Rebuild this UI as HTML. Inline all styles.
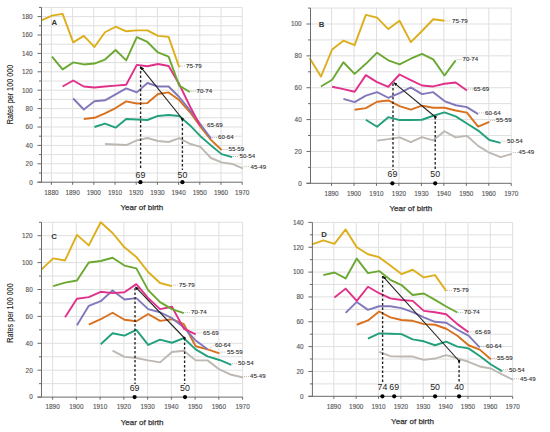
<!DOCTYPE html>
<html><head><meta charset="utf-8"><title>Rates by year of birth</title>
<style>
html,body{margin:0;padding:0;background:#fff;}
body{width:550px;height:432px;overflow:hidden;}
svg{display:block;}
text{font-family:"Liberation Sans",sans-serif;}
.tl{font-size:6.4px;fill:#555;stroke:#555;stroke-width:0.12px;}
.sl{font-size:6.1px;fill:#333;stroke:#333;stroke-width:0.12px;}
.let{font-size:7.8px;font-weight:bold;fill:#333;}
.mk{font-size:8.8px;fill:#222;}
.xt{font-size:8px;fill:#333;stroke:#333;stroke-width:0.25px;}
.yt{font-size:8.3px;fill:#222;stroke:#222;stroke-width:0.1px;}
</style></head>
<body>
<svg width="550" height="432" viewBox="0 0 550 432">
<defs>
<marker id="ah" viewBox="0 0 10 10" refX="10" refY="5" markerWidth="3.4" markerHeight="3.4" orient="auto" markerUnits="userSpaceOnUse">
<path d="M0 0L10 5L0 10z" fill="#111"/>
</marker>
</defs>
<rect width="550" height="432" fill="#fff"/>
<path d="M41.5 173H242.2M41.5 163.8H242.2M41.5 154.6H242.2M41.5 145.4H242.2M41.5 136.2H242.2M41.5 127H242.2M41.5 117.8H242.2M41.5 108.6H242.2M41.5 99.4H242.2M41.5 90.2H242.2M41.5 81H242.2M41.5 71.8H242.2M41.5 62.6H242.2M41.5 53.4H242.2M41.5 44.2H242.2M41.5 35H242.2M41.5 25.8H242.2M41.5 16.6H242.2M41.5 7.4H242.2M51.4 7.4V182.2M72.6 7.4V182.2M93.8 7.4V182.2M115 7.4V182.2M136.2 7.4V182.2M157.4 7.4V182.2M178.6 7.4V182.2M199.8 7.4V182.2M221 7.4V182.2M242.2 7.4V182.2" stroke="#DFDFDF" stroke-width="1" fill="none"/>
<polyline points="105,144.02 115.6,144.48 126.2,145.03 136.8,140.34 147.4,138.04 158,140.98 168.6,142 179.2,138.04 189.8,143.74 200.4,146.96 211,158 221.6,162.42 232.2,163.98 242.8,168.31" stroke="#BDB8B2" stroke-width="1.9" fill="none" stroke-linejoin="round" stroke-linecap="butt"/>
<polyline points="94.4,127 105,123.6 115.6,127.64 126.2,119 136.8,119.46 147.4,120.01 158,115.96 168.6,115.04 179.2,115.96 189.8,125.16 200.4,136.2 211,145.4 221.6,154.14 232.2,157.18" stroke="#22A07C" stroke-width="1.9" fill="none" stroke-linejoin="round" stroke-linecap="butt"/>
<polyline points="83.8,119 94.4,117.8 105,113.38 115.6,108.05 126.2,101.42 136.8,103.54 147.4,103.08 158,93.97 168.6,92.41 179.2,100.04 189.8,112 200.4,126.54 211,139.88 221.6,150" stroke="#D9701E" stroke-width="1.9" fill="none" stroke-linejoin="round" stroke-linecap="butt"/>
<polyline points="73.2,98.48 83.8,109.52 94.4,101.24 105,100.32 115.6,94.43 126.2,88.36 136.8,92.41 147.4,83.02 158,86.52 168.6,86.52 179.2,97.01 189.8,109.98 200.4,124.24 211,138.5" stroke="#8078BA" stroke-width="1.9" fill="none" stroke-linejoin="round" stroke-linecap="butt"/>
<polyline points="62.6,86.52 73.2,80.45 83.8,86.52 94.4,87.44 105,86.52 115.6,85.6 126.2,84.68 136.8,64.9 147.4,66.28 158,63.98 168.6,66 179.2,84.04 189.8,106.02 200.4,126.08" stroke="#E0308A" stroke-width="1.9" fill="none" stroke-linejoin="round" stroke-linecap="butt"/>
<polyline points="52,56.62 62.6,69.41 73.2,62.42 83.8,64.44 94.4,63.52 105,59.56 115.6,50 126.2,60.39 136.8,37.21 147.4,41.99 158,52.48 168.6,56.62 179.2,85.6 189.8,92.04" stroke="#6AA832" stroke-width="1.9" fill="none" stroke-linejoin="round" stroke-linecap="butt"/>
<polyline points="41.4,20.28 52,15.68 62.6,13.84 73.2,42.36 83.8,35.92 94.4,46.96 105,32.24 115.6,26.72 126.2,31.32 136.8,30.4 147.4,30.4 158,35.92 168.6,36.84 179.2,67.2" stroke="#DDAE1C" stroke-width="1.9" fill="none" stroke-linejoin="round" stroke-linecap="butt"/>
<path d="M41.5 7.4V182.2M37.5 182.2H242.2M37.5 182.2H41.5M39 173H41.5M37.5 163.8H41.5M39 154.6H41.5M37.5 145.4H41.5M39 136.2H41.5M37.5 127H41.5M39 117.8H41.5M37.5 108.6H41.5M39 99.4H41.5M37.5 90.2H41.5M39 81H41.5M37.5 71.8H41.5M39 62.6H41.5M37.5 53.4H41.5M39 44.2H41.5M37.5 35H41.5M39 25.8H41.5M37.5 16.6H41.5M39 7.4H41.5M51.4 182.2V184.8M72.6 182.2V184.8M93.8 182.2V184.8M115 182.2V184.8M136.2 182.2V184.8M157.4 182.2V184.8M178.6 182.2V184.8M199.8 182.2V184.8M221 182.2V184.8M242.2 182.2V184.8" stroke="#6a6a6a" stroke-width="1" fill="none"/>
<text x="32.7" y="184.5" class="tl" text-anchor="end">0</text>
<text x="32.7" y="166.1" class="tl" text-anchor="end">20</text>
<text x="32.7" y="147.7" class="tl" text-anchor="end">40</text>
<text x="32.7" y="129.3" class="tl" text-anchor="end">60</text>
<text x="32.7" y="110.9" class="tl" text-anchor="end">80</text>
<text x="32.7" y="92.5" class="tl" text-anchor="end">100</text>
<text x="32.7" y="74.1" class="tl" text-anchor="end">120</text>
<text x="32.7" y="55.7" class="tl" text-anchor="end">140</text>
<text x="32.7" y="37.3" class="tl" text-anchor="end">160</text>
<text x="32.7" y="18.9" class="tl" text-anchor="end">180</text>
<text x="51.4" y="194.5" class="tl" text-anchor="middle">1880</text>
<text x="72.6" y="194.5" class="tl" text-anchor="middle">1890</text>
<text x="93.8" y="194.5" class="tl" text-anchor="middle">1900</text>
<text x="115" y="194.5" class="tl" text-anchor="middle">1910</text>
<text x="136.2" y="194.5" class="tl" text-anchor="middle">1920</text>
<text x="157.4" y="194.5" class="tl" text-anchor="middle">1930</text>
<text x="178.6" y="194.5" class="tl" text-anchor="middle">1940</text>
<text x="199.8" y="194.5" class="tl" text-anchor="middle">1950</text>
<text x="221" y="194.5" class="tl" text-anchor="middle">1960</text>
<text x="242.2" y="194.5" class="tl" text-anchor="middle">1970</text>
<path d="M180.2 66H185.5" stroke="#999" stroke-width="0.8" stroke-dasharray="0.8 1.2" fill="none"/>
<text x="186" y="67.8" class="sl">75-79</text>
<path d="M190.8 91.3H196" stroke="#999" stroke-width="0.8" stroke-dasharray="0.8 1.2" fill="none"/>
<text x="196.5" y="93.1" class="sl">70-74</text>
<path d="M201.4 124.9H206.5" stroke="#999" stroke-width="0.8" stroke-dasharray="0.8 1.2" fill="none"/>
<text x="207" y="126.7" class="sl">65-69</text>
<path d="M212 137.5H217.5" stroke="#999" stroke-width="0.8" stroke-dasharray="0.8 1.2" fill="none"/>
<text x="218" y="139.3" class="sl">60-64</text>
<path d="M222.6 149.5H228" stroke="#999" stroke-width="0.8" stroke-dasharray="0.8 1.2" fill="none"/>
<text x="228.5" y="151.3" class="sl">55-59</text>
<path d="M233.2 156.5H239" stroke="#999" stroke-width="0.8" stroke-dasharray="0.8 1.2" fill="none"/>
<text x="239.5" y="158.3" class="sl">50-54</text>
<path d="M243.8 166.7H250" stroke="#999" stroke-width="0.8" stroke-dasharray="0.8 1.2" fill="none"/>
<text x="250.5" y="168.5" class="sl">45-49</text>
<text x="54.4" y="25" class="let" text-anchor="middle">A</text>
<path d="M140.6 66.5V170" stroke="#222" stroke-width="1.35" stroke-dasharray="2.6 1.9" fill="none"/>
<path d="M182.4 119V170" stroke="#222" stroke-width="1.35" stroke-dasharray="2.6 1.9" fill="none"/>
<path d="M182.4 119L140.6 66.8" stroke="#222" stroke-width="1.1" fill="none" marker-end="url(#ah)"/>
<circle cx="182.4" cy="119" r="1.3" fill="#111"/>
<text x="140.4" y="177.6" class="mk" text-anchor="middle">69</text>
<circle cx="140.4" cy="182.2" r="2.1" fill="#000"/>
<text x="182.4" y="177.6" class="mk" text-anchor="middle">50</text>
<circle cx="182.4" cy="182.2" r="2.1" fill="#000"/>
<text x="141.85" y="209.6" class="xt" text-anchor="middle">Year of birth</text>
<text transform="translate(12.9 94.5) rotate(-90) scale(0.875 1)" class="yt" text-anchor="middle">Rates per 100 000</text>
<path d="M310.5 167.37H511.24M310.5 151.44H511.24M310.5 135.51H511.24M310.5 119.58H511.24M310.5 103.65H511.24M310.5 87.72H511.24M310.5 71.79H511.24M310.5 55.86H511.24M310.5 39.93H511.24M310.5 24H511.24M310.5 8.07H511.24M331.56 8.07V183.3M354.02 8.07V183.3M376.48 8.07V183.3M398.94 8.07V183.3M421.4 8.07V183.3M443.86 8.07V183.3M466.32 8.07V183.3M488.78 8.07V183.3M511.24 8.07V183.3" stroke="#DFDFDF" stroke-width="1" fill="none"/>
<polyline points="377.08,140.61 388.31,139.17 399.54,137.42 410.77,142.2 422,137.1 433.23,140.29 444.46,131.21 455.69,137.42 466.92,135.83 478.15,145.86 489.38,152.71 500.61,157.17 511.84,153.83" stroke="#BDB8B2" stroke-width="1.9" fill="none" stroke-linejoin="round" stroke-linecap="butt"/>
<polyline points="365.85,119.74 377.08,126.75 388.31,117.19 399.54,120.06 410.77,120.06 422,119.74 433.23,115.76 444.46,112.41 455.69,116.39 466.92,123.56 478.15,130.57 489.38,139.97 500.61,142.84" stroke="#22A07C" stroke-width="1.9" fill="none" stroke-linejoin="round" stroke-linecap="butt"/>
<polyline points="354.62,109.7 365.85,108.11 377.08,101.74 388.31,100.46 399.54,106.04 410.77,109.54 422,105.72 433.23,107.79 444.46,107.79 455.69,110.5 466.92,112.57 478.15,126.59 489.38,121.97" stroke="#D9701E" stroke-width="1.9" fill="none" stroke-linejoin="round" stroke-linecap="butt"/>
<polyline points="343.39,98.87 354.62,102.06 365.85,95.69 377.08,92.18 388.31,97.76 399.54,93.14 410.77,87.4 422,94.09 433.23,92.18 444.46,101.1 455.69,105.24 466.92,107.15 478.15,114.16" stroke="#8078BA" stroke-width="1.9" fill="none" stroke-linejoin="round" stroke-linecap="butt"/>
<polyline points="332.16,86.76 343.39,89.15 354.62,91.7 365.85,75.14 377.08,82.14 388.31,86.76 399.54,74.5 410.77,80.07 422,85.49 433.23,86.45 444.46,83.74 455.69,82.46 466.92,90.59" stroke="#E0308A" stroke-width="1.9" fill="none" stroke-linejoin="round" stroke-linecap="butt"/>
<polyline points="320.93,86.45 332.16,79.76 343.39,62.23 354.62,73.86 365.85,63.83 377.08,52.67 388.31,60.32 399.54,64.3 410.77,58.73 422,53.79 433.23,59.36 444.46,75.45 455.69,60.32" stroke="#6AA832" stroke-width="1.9" fill="none" stroke-linejoin="round" stroke-linecap="butt"/>
<polyline points="309.7,58.25 320.93,76.57 332.16,49.49 343.39,40.73 354.62,45.19 365.85,14.92 377.08,17.63 388.31,29.1 399.54,20.81 410.77,42.16 422,31.01 433.23,19.22 444.46,20.81" stroke="#DDAE1C" stroke-width="1.9" fill="none" stroke-linejoin="round" stroke-linecap="butt"/>
<path d="M310.5 8.07V183.3M306.5 183.3H511.24M306.5 183.3H310.5M308 167.37H310.5M306.5 151.44H310.5M308 135.51H310.5M306.5 119.58H310.5M308 103.65H310.5M306.5 87.72H310.5M308 71.79H310.5M306.5 55.86H310.5M308 39.93H310.5M306.5 24H310.5M308 8.07H310.5M331.56 183.3V185.9M354.02 183.3V185.9M376.48 183.3V185.9M398.94 183.3V185.9M421.4 183.3V185.9M443.86 183.3V185.9M466.32 183.3V185.9M488.78 183.3V185.9M511.24 183.3V185.9" stroke="#6a6a6a" stroke-width="1" fill="none"/>
<text x="301.7" y="185.6" class="tl" text-anchor="end">0</text>
<text x="301.7" y="153.74" class="tl" text-anchor="end">20</text>
<text x="301.7" y="121.88" class="tl" text-anchor="end">40</text>
<text x="301.7" y="90.02" class="tl" text-anchor="end">60</text>
<text x="301.7" y="58.16" class="tl" text-anchor="end">80</text>
<text x="301.7" y="26.3" class="tl" text-anchor="end">100</text>
<text x="331.56" y="195.6" class="tl" text-anchor="middle">1890</text>
<text x="354.02" y="195.6" class="tl" text-anchor="middle">1900</text>
<text x="376.48" y="195.6" class="tl" text-anchor="middle">1910</text>
<text x="398.94" y="195.6" class="tl" text-anchor="middle">1920</text>
<text x="421.4" y="195.6" class="tl" text-anchor="middle">1930</text>
<text x="443.86" y="195.6" class="tl" text-anchor="middle">1940</text>
<text x="466.32" y="195.6" class="tl" text-anchor="middle">1950</text>
<text x="488.78" y="195.6" class="tl" text-anchor="middle">1960</text>
<text x="511.24" y="195.6" class="tl" text-anchor="middle">1970</text>
<path d="M445.46 20.8H451.5" stroke="#999" stroke-width="0.8" stroke-dasharray="0.8 1.2" fill="none"/>
<text x="452" y="22.6" class="sl">75-79</text>
<path d="M456.69 59.5H462" stroke="#999" stroke-width="0.8" stroke-dasharray="0.8 1.2" fill="none"/>
<text x="462.5" y="61.3" class="sl">70-74</text>
<path d="M467.92 89.1H473" stroke="#999" stroke-width="0.8" stroke-dasharray="0.8 1.2" fill="none"/>
<text x="473.5" y="90.9" class="sl">65-69</text>
<path d="M479.15 112.8H484.5" stroke="#999" stroke-width="0.8" stroke-dasharray="0.8 1.2" fill="none"/>
<text x="485" y="114.6" class="sl">60-64</text>
<path d="M490.38 120.5H495.5" stroke="#999" stroke-width="0.8" stroke-dasharray="0.8 1.2" fill="none"/>
<text x="496" y="122.3" class="sl">55-59</text>
<path d="M501.61 141.1H506.5" stroke="#999" stroke-width="0.8" stroke-dasharray="0.8 1.2" fill="none"/>
<text x="507" y="142.9" class="sl">50-54</text>
<path d="M512.84 152.5H518" stroke="#999" stroke-width="0.8" stroke-dasharray="0.8 1.2" fill="none"/>
<text x="518.5" y="154.3" class="sl">45-49</text>
<text x="321.6" y="26.5" class="let" text-anchor="middle">B</text>
<path d="M393 83.5V170" stroke="#222" stroke-width="1.35" stroke-dasharray="2.6 1.9" fill="none"/>
<path d="M435.2 117V170" stroke="#222" stroke-width="1.35" stroke-dasharray="2.6 1.9" fill="none"/>
<path d="M435.4 117L393.8 82.6" stroke="#222" stroke-width="1.1" fill="none" marker-end="url(#ah)"/>
<circle cx="435.4" cy="117" r="1.3" fill="#111"/>
<text x="392.4" y="177.4" class="mk" text-anchor="middle">69</text>
<circle cx="392.4" cy="183.3" r="2.1" fill="#000"/>
<text x="435.2" y="177.4" class="mk" text-anchor="middle">50</text>
<circle cx="435.2" cy="183.3" r="2.1" fill="#000"/>
<text x="410.87" y="210.7" class="xt" text-anchor="middle">Year of birth</text>
<path d="M41.5 383.65H242.6M41.5 370.2H242.6M41.5 356.75H242.6M41.5 343.3H242.6M41.5 329.85H242.6M41.5 316.4H242.6M41.5 302.95H242.6M41.5 289.5H242.6M41.5 276.05H242.6M41.5 262.6H242.6M41.5 249.15H242.6M41.5 235.7H242.6M41.5 222.25H242.6M52.6 222.25V397.1M76.35 222.25V397.1M100.1 222.25V397.1M123.85 222.25V397.1M147.6 222.25V397.1M171.35 222.25V397.1M195.1 222.25V397.1M218.85 222.25V397.1M242.6 222.25V397.1" stroke="#DFDFDF" stroke-width="1" fill="none"/>
<polyline points="112.57,350.7 124.45,356.88 136.32,357.96 148.2,360.38 160.07,362.4 171.95,352.04 183.82,350.7 195.7,360.38 207.57,360.38 219.45,369.39 231.32,374.77 243.2,377.46" stroke="#BDB8B2" stroke-width="1.9" fill="none" stroke-linejoin="round" stroke-linecap="butt"/>
<polyline points="100.7,344.24 112.57,333.21 124.45,335.63 136.32,329.85 148.2,344.91 160.07,339.67 171.95,342.76 183.82,338.19 195.7,349.35 207.57,356.35 219.45,359.98 231.32,364.82" stroke="#22A07C" stroke-width="1.9" fill="none" stroke-linejoin="round" stroke-linecap="butt"/>
<polyline points="88.82,324.6 100.7,319.22 112.57,312.77 124.45,319.76 136.32,321.24 148.2,313.98 160.07,320.84 171.95,319.22 183.82,324.2 195.7,346.26 207.57,349.35 219.45,353.39" stroke="#D9701E" stroke-width="1.9" fill="none" stroke-linejoin="round" stroke-linecap="butt"/>
<polyline points="76.95,325.28 88.82,305.77 100.7,301.2 112.57,290.44 124.45,299.45 136.32,298.11 148.2,309.14 160.07,312.23 171.95,318.15 183.82,327.29 195.7,340.61 207.57,349.35" stroke="#8078BA" stroke-width="1.9" fill="none" stroke-linejoin="round" stroke-linecap="butt"/>
<polyline points="65.07,317.21 76.95,298.78 88.82,297.17 100.7,291.79 112.57,293.13 124.45,292.32 136.32,284.12 148.2,298.11 160.07,309.14 171.95,306.72 183.82,328.64 195.7,334.29" stroke="#E0308A" stroke-width="1.9" fill="none" stroke-linejoin="round" stroke-linecap="butt"/>
<polyline points="53.2,286.14 65.07,282.64 76.95,280.49 88.82,262.47 100.7,260.99 112.57,257.76 124.45,265.56 136.32,268.38 148.2,290.17 160.07,302.14 171.95,309.14 183.82,313.17" stroke="#6AA832" stroke-width="1.9" fill="none" stroke-linejoin="round" stroke-linecap="butt"/>
<polyline points="41.33,269.59 53.2,258.43 65.07,260.45 76.95,234.89 88.82,245.38 100.7,222.25 112.57,233.01 124.45,247.27 136.32,256.95 148.2,272.02 160.07,283.04 171.95,286.14" stroke="#DDAE1C" stroke-width="1.9" fill="none" stroke-linejoin="round" stroke-linecap="butt"/>
<path d="M41.5 222.25V397.1M37.5 397.1H242.6M37.5 397.1H41.5M39 383.65H41.5M37.5 370.2H41.5M39 356.75H41.5M37.5 343.3H41.5M39 329.85H41.5M37.5 316.4H41.5M39 302.95H41.5M37.5 289.5H41.5M39 276.05H41.5M37.5 262.6H41.5M39 249.15H41.5M37.5 235.7H41.5M39 222.25H41.5M52.6 397.1V399.7M76.35 397.1V399.7M100.1 397.1V399.7M123.85 397.1V399.7M147.6 397.1V399.7M171.35 397.1V399.7M195.1 397.1V399.7M218.85 397.1V399.7M242.6 397.1V399.7" stroke="#6a6a6a" stroke-width="1" fill="none"/>
<text x="32.7" y="399.4" class="tl" text-anchor="end">0</text>
<text x="32.7" y="372.5" class="tl" text-anchor="end">20</text>
<text x="32.7" y="345.6" class="tl" text-anchor="end">40</text>
<text x="32.7" y="318.7" class="tl" text-anchor="end">60</text>
<text x="32.7" y="291.8" class="tl" text-anchor="end">80</text>
<text x="32.7" y="264.9" class="tl" text-anchor="end">100</text>
<text x="32.7" y="238" class="tl" text-anchor="end">120</text>
<text x="52.6" y="409.4" class="tl" text-anchor="middle">1890</text>
<text x="76.35" y="409.4" class="tl" text-anchor="middle">1900</text>
<text x="100.1" y="409.4" class="tl" text-anchor="middle">1910</text>
<text x="123.85" y="409.4" class="tl" text-anchor="middle">1920</text>
<text x="147.6" y="409.4" class="tl" text-anchor="middle">1930</text>
<text x="171.35" y="409.4" class="tl" text-anchor="middle">1940</text>
<text x="195.1" y="409.4" class="tl" text-anchor="middle">1950</text>
<text x="218.85" y="409.4" class="tl" text-anchor="middle">1960</text>
<text x="242.6" y="409.4" class="tl" text-anchor="middle">1970</text>
<path d="M172.95 285.1H178.5" stroke="#999" stroke-width="0.8" stroke-dasharray="0.8 1.2" fill="none"/>
<text x="179" y="286.9" class="sl">75-79</text>
<path d="M184.82 312.5H190.5" stroke="#999" stroke-width="0.8" stroke-dasharray="0.8 1.2" fill="none"/>
<text x="191" y="314.3" class="sl">70-74</text>
<path d="M196.7 332.9H202.5" stroke="#999" stroke-width="0.8" stroke-dasharray="0.8 1.2" fill="none"/>
<text x="203" y="334.7" class="sl">65-69</text>
<path d="M208.5 349.5L214 345" stroke="#999" stroke-width="0.8" stroke-dasharray="0.8 1.2" fill="none"/>
<text x="215" y="346.8" class="sl">60-64</text>
<path d="M220.45 352.1H226.5" stroke="#999" stroke-width="0.8" stroke-dasharray="0.8 1.2" fill="none"/>
<text x="227" y="353.9" class="sl">55-59</text>
<path d="M232.32 363.5H237.5" stroke="#999" stroke-width="0.8" stroke-dasharray="0.8 1.2" fill="none"/>
<text x="238" y="365.3" class="sl">50-54</text>
<path d="M244.2 376.5H249.5" stroke="#999" stroke-width="0.8" stroke-dasharray="0.8 1.2" fill="none"/>
<text x="250" y="378.3" class="sl">45-49</text>
<text x="54" y="239" class="let" text-anchor="middle">C</text>
<path d="M135 288V384" stroke="#222" stroke-width="1.35" stroke-dasharray="2.6 1.9" fill="none"/>
<path d="M184.6 338V384" stroke="#222" stroke-width="1.35" stroke-dasharray="2.6 1.9" fill="none"/>
<path d="M184.4 338L135.4 286.8" stroke="#222" stroke-width="1.1" fill="none" marker-end="url(#ah)"/>
<circle cx="184.4" cy="338" r="1.3" fill="#111"/>
<text x="134.6" y="391.4" class="mk" text-anchor="middle">69</text>
<circle cx="134.6" cy="397.1" r="2.1" fill="#000"/>
<text x="185" y="391.4" class="mk" text-anchor="middle">50</text>
<circle cx="185" cy="397.1" r="2.1" fill="#000"/>
<text x="142.05" y="424.5" class="xt" text-anchor="middle">Year of birth</text>
<text transform="translate(12.9 313) rotate(-90) scale(0.875 1)" class="yt" text-anchor="middle">Rates per 100 000</text>
<path d="M312.4 383.88H512.65M312.4 371.46H512.65M312.4 359.04H512.65M312.4 346.62H512.65M312.4 334.2H512.65M312.4 321.78H512.65M312.4 309.36H512.65M312.4 296.94H512.65M312.4 284.52H512.65M312.4 272.1H512.65M312.4 259.68H512.65M312.4 247.26H512.65M312.4 234.84H512.65M312.4 222.42H512.65M333.85 222.42V396.3M356.2 222.42V396.3M378.55 222.42V396.3M400.9 222.42V396.3M423.25 222.42V396.3M445.6 222.42V396.3M467.95 222.42V396.3M490.3 222.42V396.3M512.65 222.42V396.3" stroke="#DFDFDF" stroke-width="1" fill="none"/>
<polyline points="379.15,351.96 390.33,356.18 401.5,356.56 412.68,356.56 423.85,359.91 435.03,358.54 446.2,355.19 457.38,358.29 468.55,361.77 479.73,366.49 490.9,368.48 502.08,374.44 513.25,379.78" stroke="#BDB8B2" stroke-width="1.9" fill="none" stroke-linejoin="round" stroke-linecap="butt"/>
<polyline points="367.98,338.67 379.15,333.33 390.33,333.7 401.5,334.08 412.68,339.42 423.85,341.28 435.03,345.25 446.2,341.65 457.38,346.62 468.55,348.36 479.73,356.06 490.9,364.5 502.08,371.09" stroke="#22A07C" stroke-width="1.9" fill="none" stroke-linejoin="round" stroke-linecap="butt"/>
<polyline points="356.8,324.76 367.98,320.41 379.15,311.47 390.33,317.43 401.5,320.04 412.68,320.79 423.85,324.14 435.03,324.76 446.2,328.74 457.38,335.69 468.55,345.25 479.73,349.6 490.9,359.16" stroke="#D9701E" stroke-width="1.9" fill="none" stroke-linejoin="round" stroke-linecap="butt"/>
<polyline points="345.63,312.84 356.8,301.91 367.98,309.86 379.15,306.25 390.33,306.25 401.5,308.12 412.68,312.22 423.85,317.43 435.03,321.78 446.2,322.77 457.38,329.73 468.55,335.69 479.73,347.37" stroke="#8078BA" stroke-width="1.9" fill="none" stroke-linejoin="round" stroke-linecap="butt"/>
<polyline points="334.45,297.56 345.63,288.62 356.8,300.91 367.98,286.76 379.15,293.21 390.33,298.43 401.5,300.05 412.68,300.91 423.85,310.85 435.03,312.22 446.2,314.2 457.38,324.14 468.55,332.34" stroke="#E0308A" stroke-width="1.9" fill="none" stroke-linejoin="round" stroke-linecap="butt"/>
<polyline points="323.28,275.08 334.45,272.47 345.63,278.43 356.8,258.56 367.98,273.09 379.15,271.11 390.33,279.8 401.5,285.02 412.68,294.95 423.85,293.46 435.03,299.92 446.2,306.5 457.38,312.47" stroke="#6AA832" stroke-width="1.9" fill="none" stroke-linejoin="round" stroke-linecap="butt"/>
<polyline points="312.1,244.28 323.28,240.3 334.45,243.91 345.63,229.38 356.8,247.26 367.98,254.22 379.15,257.2 390.33,265.52 401.5,274.09 412.68,269.74 423.85,277.44 435.03,275.08 446.2,290.98" stroke="#DDAE1C" stroke-width="1.9" fill="none" stroke-linejoin="round" stroke-linecap="butt"/>
<path d="M312.4 222.42V396.3M308.4 396.3H512.65M308.4 396.3H312.4M309.9 383.88H312.4M308.4 371.46H312.4M309.9 359.04H312.4M308.4 346.62H312.4M309.9 334.2H312.4M308.4 321.78H312.4M309.9 309.36H312.4M308.4 296.94H312.4M309.9 284.52H312.4M308.4 272.1H312.4M309.9 259.68H312.4M308.4 247.26H312.4M309.9 234.84H312.4M308.4 222.42H312.4M333.85 396.3V398.9M356.2 396.3V398.9M378.55 396.3V398.9M400.9 396.3V398.9M423.25 396.3V398.9M445.6 396.3V398.9M467.95 396.3V398.9M490.3 396.3V398.9M512.65 396.3V398.9" stroke="#6a6a6a" stroke-width="1" fill="none"/>
<text x="303.6" y="398.6" class="tl" text-anchor="end">0</text>
<text x="303.6" y="373.76" class="tl" text-anchor="end">20</text>
<text x="303.6" y="348.92" class="tl" text-anchor="end">40</text>
<text x="303.6" y="324.08" class="tl" text-anchor="end">60</text>
<text x="303.6" y="299.24" class="tl" text-anchor="end">80</text>
<text x="303.6" y="274.4" class="tl" text-anchor="end">100</text>
<text x="303.6" y="249.56" class="tl" text-anchor="end">120</text>
<text x="303.6" y="224.72" class="tl" text-anchor="end">140</text>
<text x="333.85" y="408.6" class="tl" text-anchor="middle">1890</text>
<text x="356.2" y="408.6" class="tl" text-anchor="middle">1900</text>
<text x="378.55" y="408.6" class="tl" text-anchor="middle">1910</text>
<text x="400.9" y="408.6" class="tl" text-anchor="middle">1920</text>
<text x="423.25" y="408.6" class="tl" text-anchor="middle">1930</text>
<text x="445.6" y="408.6" class="tl" text-anchor="middle">1940</text>
<text x="467.95" y="408.6" class="tl" text-anchor="middle">1950</text>
<text x="490.3" y="408.6" class="tl" text-anchor="middle">1960</text>
<text x="512.65" y="408.6" class="tl" text-anchor="middle">1970</text>
<path d="M447.2 290.5H452.5" stroke="#999" stroke-width="0.8" stroke-dasharray="0.8 1.2" fill="none"/>
<text x="453" y="292.3" class="sl">75-79</text>
<path d="M458.38 312.5H463.5" stroke="#999" stroke-width="0.8" stroke-dasharray="0.8 1.2" fill="none"/>
<text x="464" y="314.3" class="sl">70-74</text>
<path d="M469.55 331.7H474.5" stroke="#999" stroke-width="0.8" stroke-dasharray="0.8 1.2" fill="none"/>
<text x="475" y="333.5" class="sl">65-69</text>
<path d="M480.73 346.4H485.5" stroke="#999" stroke-width="0.8" stroke-dasharray="0.8 1.2" fill="none"/>
<text x="486" y="348.2" class="sl">60-64</text>
<path d="M491.9 358.4H496.5" stroke="#999" stroke-width="0.8" stroke-dasharray="0.8 1.2" fill="none"/>
<text x="497" y="360.2" class="sl">55-59</text>
<path d="M503.08 369.7H508.5" stroke="#999" stroke-width="0.8" stroke-dasharray="0.8 1.2" fill="none"/>
<text x="509" y="371.5" class="sl">50-54</text>
<path d="M514.25 378.7H519.5" stroke="#999" stroke-width="0.8" stroke-dasharray="0.8 1.2" fill="none"/>
<text x="520" y="380.5" class="sl">45-49</text>
<text x="324" y="237" class="let" text-anchor="middle">D</text>
<path d="M382.6 276V382.7" stroke="#222" stroke-width="1.35" stroke-dasharray="2.6 1.9" fill="none"/>
<path d="M459.1 361V382.7" stroke="#222" stroke-width="1.35" stroke-dasharray="2.6 1.9" fill="none"/>
<path d="M459.1 361L383 276.3" stroke="#222" stroke-width="1.1" fill="none" marker-end="url(#ah)"/>
<circle cx="459.1" cy="361" r="1.3" fill="#111"/>
<text x="382.4" y="389.6" class="mk" text-anchor="middle">74</text>
<circle cx="382.4" cy="396.3" r="2.1" fill="#000"/>
<text x="394.2" y="389.6" class="mk" text-anchor="middle">69</text>
<circle cx="394.2" cy="396.3" r="2.1" fill="#000"/>
<text x="435.1" y="389.6" class="mk" text-anchor="middle">50</text>
<circle cx="435.1" cy="396.3" r="2.1" fill="#000"/>
<text x="459.1" y="389.6" class="mk" text-anchor="middle">40</text>
<circle cx="459.1" cy="396.3" r="2.1" fill="#000"/>
<text x="412.52" y="423.7" class="xt" text-anchor="middle">Year of birth</text>
</svg>
</body></html>
